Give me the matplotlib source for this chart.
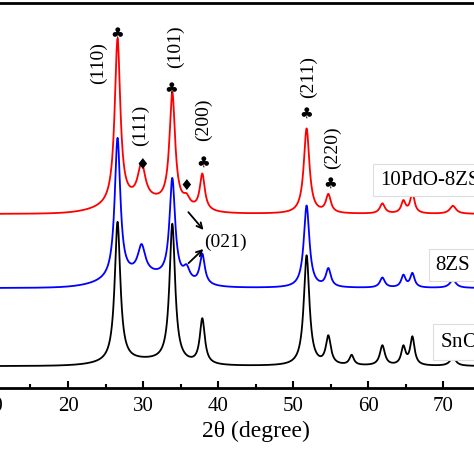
import numpy as np
import matplotlib
matplotlib.use("Agg")
import matplotlib.pyplot as plt

plt.rcParams['font.family'] = ['Liberation Serif', 'DejaVu Serif']

# peak positions (2theta) and heights per sample (arbitrary units)
peak_pos   = [26.6, 29.8, 33.9, 35.8, 37.9, 51.8, 54.7, 57.8, 61.9, 64.7, 65.9, 71.3]
peak_width = [0.45, 0.6, 0.45, 0.5, 0.4, 0.45, 0.4, 0.35, 0.4, 0.35, 0.35, 0.5]
red_h   = [165, 35, 112, 8, 36, 85, 18, 0, 10, 12, 20, 8]
blue_h  = [140, 28, 100, 12, 30, 82, 18, 0, 10, 12, 14, 8]
black_h = [140, 0, 138, 0, 45, 110, 28, 10, 20, 18, 28, 8]
red_base, blue_base, black_base = 260, 186, 108
hump_h = [12, 12, 5]

x = np.linspace(10, 80, 3000)

def pattern(h, base, hump):
    y = np.full_like(x, base, dtype=float)
    y += hump * np.exp(-((x - 30) / 6) ** 2)
    for p, w, a in zip(peak_pos, peak_width, h):
        y += a / (1 + ((x - p) / w) ** 2)
    return y

fig = plt.figure(figsize=(4.74, 4.74), dpi=100)
ax = fig.add_axes([-0.0148, 0.181, 1.108, 0.813])
ax.plot(x, pattern(black_h, black_base, hump_h[2]), color='black', lw=1.3)
ax.plot(x, pattern(blue_h, blue_base, hump_h[1]), color='#0000ff', lw=1.3)
ax.plot(x, pattern(red_h, red_base, hump_h[0]), color='#ff0000', lw=1.3)
ax.set_xlim(10, 80)
ax.set_ylim(86, 471)
ax.set_yticks([])
ax.set_xticks([10, 20, 30, 40, 50, 60, 70, 80])
ax.set_xticks(np.arange(15, 80, 10), minor=True)
ax.tick_params(axis='x', direction='in', length=5, width=1.5, labelsize=15, pad=6)
ax.tick_params(axis='x', which='minor', direction='in', length=3, width=1.5)
for s in ax.spines.values():
    s.set_linewidth(2)
ax.set_xlabel('2θ (degree)', fontsize=17, labelpad=4)

club, diam = '♣', '♦'
sym = dict(ha='center', va='center', fontsize=11, family=['DejaVu Sans'])
lab = dict(ha='center', va='center', rotation=90, fontsize=14)
ax.text(26.6, 441, club, **sym); ax.text(24.0, 411, '(110)', **lab)
ax.text(29.9, 309, diam, **sym); ax.text(29.6, 349, '(111)', **lab)
ax.text(33.8, 386, club, **sym); ax.text(34.3, 427, '(101)', **lab)
ax.text(35.7, 289, diam, **sym)
ax.text(38.0, 312, club, **sym); ax.text(38.0, 354, '(200)', **lab)
ax.text(51.8, 361, club, **sym); ax.text(52.0, 397, '(211)', **lab)
ax.text(55.0, 291, club, **sym); ax.text(55.3, 326, '(220)', **lab)

ax.text(38.2, 232, '(021)', fontsize=14, ha='left', va='center')
ap = dict(arrowstyle='->', color='black', lw=1.3)
ax.annotate('', xy=(38.3, 242), xytext=(35.8, 264), arrowprops=ap)
ax.annotate('', xy=(38.3, 227), xytext=(35.8, 209), arrowprops=ap)

box = dict(facecolor='white', edgecolor='#dddddd', lw=0.8, pad=5)
ax.text(61.6, 294, '10PdO-8ZS', fontsize=15, va='center', ha='left', bbox=box)
ax.text(69.0, 209, '8ZS', fontsize=15, va='center', ha='left', bbox=box)
ax.text(69.6, 132, 'SnO$_2$', fontsize=15, va='center', ha='left', bbox=box)

fig.savefig('out.png', dpi=100)
